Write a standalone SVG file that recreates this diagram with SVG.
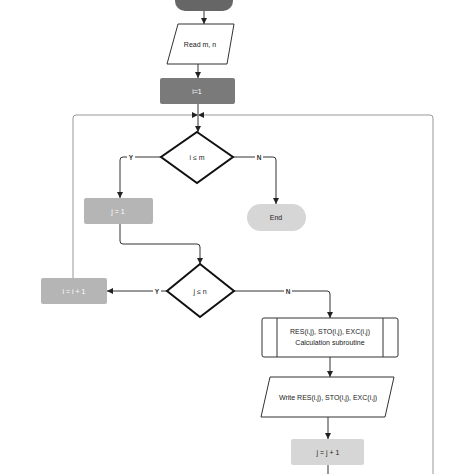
<svg xmlns="http://www.w3.org/2000/svg" width="474" height="474" viewBox="0 0 474 474">
<style>
text{font-family:"Liberation Sans",Arial,sans-serif;font-size:7px;text-anchor:middle;dominant-baseline:central}
.c{fill:none;stroke:#333;stroke-width:1}
.loop{fill:none;stroke:#999;stroke-width:1}
.dia{fill:#fff;stroke:#111;stroke-width:2}
.io{fill:#fff;stroke:#333;stroke-width:1}
.lbl{font-weight:bold;fill:#333;font-size:6.5px}
.w{fill:#fff}
.d{fill:#222}
</style>
<defs>
<marker id="ar" viewBox="0 0 10 10" refX="10" refY="5" markerWidth="6" markerHeight="6" orient="auto" markerUnits="userSpaceOnUse">
<path d="M0,0 L10,5 L0,10 z" fill="#222"/>
</marker>
</defs>
<rect width="474" height="474" fill="#fff"/>
<g id="connectors">
<path class="c" d="M204,11 V24" marker-end="url(#ar)"/>
<path class="c" d="M198,64 V78" marker-end="url(#ar)"/>
<path class="c" d="M198,104 V132" marker-end="url(#ar)"/>
<path class="loop" d="M73,278 V118 Q73,115 76,115 H198" marker-end="url(#ar)"/>
<path class="loop" d="M433,474 V118 Q433,115 430,115 H198" marker-end="url(#ar)"/>
<path class="c" d="M161,157 H123 Q120,157 120,160 V198" marker-end="url(#ar)"/>
<path class="c" d="M233,157 H273 Q276,157 276,160 V204" marker-end="url(#ar)"/>
<path class="c" d="M120,224 V241 Q120,244 123,244 H197 Q200,244 200,247 V264" marker-end="url(#ar)"/>
<path class="c" d="M167,291 H107" marker-end="url(#ar)"/>
<path class="c" d="M234,291 H327 Q330,291 330,294 V318" marker-end="url(#ar)"/>
<path class="c" d="M330,357 V377" marker-end="url(#ar)"/>
<path class="c" d="M328,417 V439" marker-end="url(#ar)"/>
<path class="c" d="M328,465 V474"/>
<g class="lbl">
<rect x="127" y="153" width="8" height="8" fill="#fff"/>
<text x="131" y="157" class="lbl">Y</text>
<rect x="255" y="153" width="8" height="8" fill="#fff"/>
<text x="259" y="157" class="lbl">N</text>
<rect x="153" y="287" width="8" height="8" fill="#fff"/>
<text x="157" y="291" class="lbl">Y</text>
<rect x="284" y="287" width="8" height="8" fill="#fff"/>
<text x="288" y="291" class="lbl">N</text>
</g>
</g>
<g id="start">
<rect x="175" y="-20" width="58" height="31" rx="10" fill="#666"/>
</g>
<g id="read">
<polygon class="io" points="178,24 234,24 227,64 167,64"/>
<text x="200" y="44" class="d">Read m, n</text>
</g>
<g id="init-i">
<rect x="160" y="78" width="75" height="26" rx="2" fill="#7a7a7a"/>
<text x="197" y="91" class="w">i=1</text>
</g>
<g id="cond-i">
<polygon class="dia" points="197,132 233,157 197,183 161,157"/>
<text x="197" y="157" class="d">i ≤ m</text>
</g>
<g id="init-j">
<rect x="84" y="198" width="69" height="26" rx="2" fill="#b5b5b5"/>
<text x="118" y="211" class="w">j = 1</text>
</g>
<g id="end">
<rect x="247" y="204" width="59" height="27" rx="13.5" fill="#d6d6d6"/>
<text x="276" y="217.5" class="d">End</text>
</g>
<g id="cond-j">
<polygon class="dia" points="200,264 234,291 200,317 167,291"/>
<text x="200" y="291" class="d">j ≤ n</text>
</g>
<g id="inc-i">
<rect x="41" y="278" width="66" height="26" rx="2" fill="#b5b5b5"/>
<text x="74" y="291" class="w">i = i + 1</text>
</g>
<g id="subroutine">
<rect class="io" x="262" y="318" width="136" height="39" rx="2"/>
<line class="io" x1="277" y1="318" x2="277" y2="357"/>
<line class="io" x1="383" y1="318" x2="383" y2="357"/>
<text x="330" y="331" class="d">RES(i,j), STO(i,j), EXC(i,j)</text>
<text x="330" y="342" class="d">Calculation subroutine</text>
</g>
<g id="write">
<polygon class="io" points="270,377 394,377 385,417 261,417"/>
<text x="328" y="397" class="d">Write RES(i,j), STO(i,j), EXC(i,j)</text>
</g>
<g id="inc-j">
<rect x="291" y="439" width="73" height="26" rx="2" fill="#d6d6d6"/>
<text x="328" y="452" class="d">j = j + 1</text>
</g>
</svg>
